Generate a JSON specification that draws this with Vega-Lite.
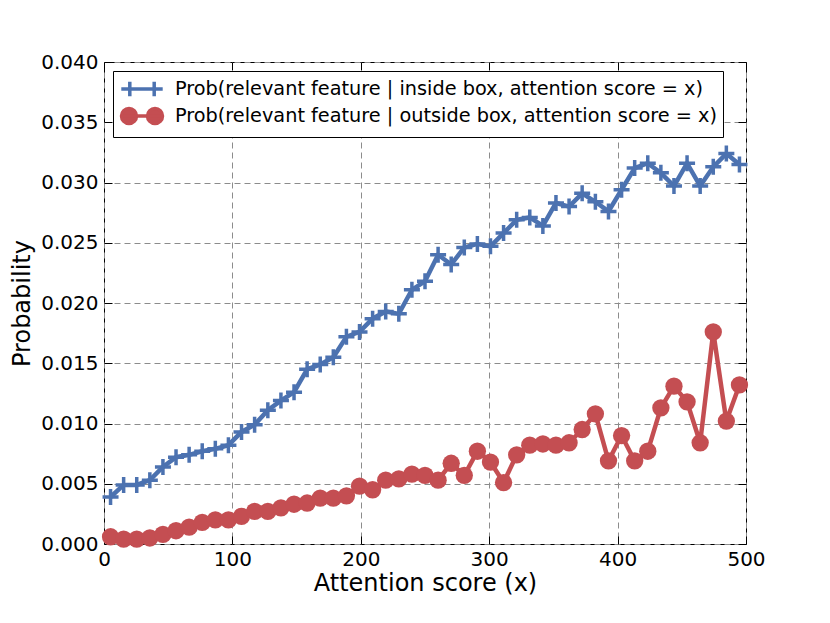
{
  "$schema": "https://vega.github.io/schema/vega-lite/v6.json",
  "description": "Probability of a relevant feature inside vs outside the box, by attention score.",
  "autosize": {"type": "none"},
  "padding": {"left": 104, "top": 62, "right": 84, "bottom": 79},
  "width": 642,
  "height": 482,
  "datasets": {
    "probs": [
      {"x": 5.1, "box": "inside", "p": 0.0039}, {"x": 15.3, "box": "inside", "p": 0.0049},
      {"x": 25.5, "box": "inside", "p": 0.0049}, {"x": 35.7, "box": "inside", "p": 0.0053},
      {"x": 45.9, "box": "inside", "p": 0.0064}, {"x": 56.1, "box": "inside", "p": 0.0072},
      {"x": 66.3, "box": "inside", "p": 0.0074}, {"x": 76.5, "box": "inside", "p": 0.0077},
      {"x": 86.7, "box": "inside", "p": 0.0079}, {"x": 96.9, "box": "inside", "p": 0.0082},
      {"x": 107.1, "box": "inside", "p": 0.0093}, {"x": 117.3, "box": "inside", "p": 0.0099},
      {"x": 127.6, "box": "inside", "p": 0.0111}, {"x": 137.8, "box": "inside", "p": 0.0119},
      {"x": 148.0, "box": "inside", "p": 0.0126}, {"x": 158.2, "box": "inside", "p": 0.0145},
      {"x": 168.4, "box": "inside", "p": 0.0149}, {"x": 178.6, "box": "inside", "p": 0.0155},
      {"x": 188.8, "box": "inside", "p": 0.0172}, {"x": 199.0, "box": "inside", "p": 0.0176},
      {"x": 209.2, "box": "inside", "p": 0.0187}, {"x": 219.4, "box": "inside", "p": 0.0193},
      {"x": 229.6, "box": "inside", "p": 0.0191}, {"x": 239.8, "box": "inside", "p": 0.0211},
      {"x": 250.0, "box": "inside", "p": 0.0218}, {"x": 260.2, "box": "inside", "p": 0.0240},
      {"x": 270.4, "box": "inside", "p": 0.0232}, {"x": 280.6, "box": "inside", "p": 0.0246},
      {"x": 290.8, "box": "inside", "p": 0.0249}, {"x": 301.0, "box": "inside", "p": 0.0247},
      {"x": 311.2, "box": "inside", "p": 0.0258}, {"x": 321.4, "box": "inside", "p": 0.0269},
      {"x": 331.6, "box": "inside", "p": 0.0271}, {"x": 341.8, "box": "inside", "p": 0.0264},
      {"x": 352.0, "box": "inside", "p": 0.0283}, {"x": 362.2, "box": "inside", "p": 0.0280},
      {"x": 372.4, "box": "inside", "p": 0.0291}, {"x": 382.7, "box": "inside", "p": 0.0284},
      {"x": 392.9, "box": "inside", "p": 0.0276}, {"x": 403.1, "box": "inside", "p": 0.0294},
      {"x": 413.3, "box": "inside", "p": 0.0312}, {"x": 423.5, "box": "inside", "p": 0.0316},
      {"x": 433.7, "box": "inside", "p": 0.0308}, {"x": 443.9, "box": "inside", "p": 0.0297},
      {"x": 454.1, "box": "inside", "p": 0.0316}, {"x": 464.3, "box": "inside", "p": 0.0297},
      {"x": 474.5, "box": "inside", "p": 0.0313}, {"x": 484.7, "box": "inside", "p": 0.0324},
      {"x": 494.9, "box": "inside", "p": 0.0315},
      {"x": 5.1, "box": "outside", "p": 0.0006}, {"x": 15.3, "box": "outside", "p": 0.0004},
      {"x": 25.5, "box": "outside", "p": 0.0004}, {"x": 35.7, "box": "outside", "p": 0.0005},
      {"x": 45.9, "box": "outside", "p": 0.0008}, {"x": 56.1, "box": "outside", "p": 0.0011},
      {"x": 66.3, "box": "outside", "p": 0.0014}, {"x": 76.5, "box": "outside", "p": 0.0018},
      {"x": 86.7, "box": "outside", "p": 0.0020}, {"x": 96.9, "box": "outside", "p": 0.0020},
      {"x": 107.1, "box": "outside", "p": 0.0023}, {"x": 117.3, "box": "outside", "p": 0.0027},
      {"x": 127.6, "box": "outside", "p": 0.0027}, {"x": 137.8, "box": "outside", "p": 0.0030},
      {"x": 148.0, "box": "outside", "p": 0.0033}, {"x": 158.2, "box": "outside", "p": 0.0034},
      {"x": 168.4, "box": "outside", "p": 0.0038}, {"x": 178.6, "box": "outside", "p": 0.0038},
      {"x": 188.8, "box": "outside", "p": 0.0040}, {"x": 199.0, "box": "outside", "p": 0.0048},
      {"x": 209.2, "box": "outside", "p": 0.0045}, {"x": 219.4, "box": "outside", "p": 0.0053},
      {"x": 229.6, "box": "outside", "p": 0.0054}, {"x": 239.8, "box": "outside", "p": 0.0058},
      {"x": 250.0, "box": "outside", "p": 0.0057}, {"x": 260.2, "box": "outside", "p": 0.0053},
      {"x": 270.4, "box": "outside", "p": 0.0067}, {"x": 280.6, "box": "outside", "p": 0.0057},
      {"x": 290.8, "box": "outside", "p": 0.0077}, {"x": 301.0, "box": "outside", "p": 0.0068},
      {"x": 311.2, "box": "outside", "p": 0.0051}, {"x": 321.4, "box": "outside", "p": 0.0074},
      {"x": 331.6, "box": "outside", "p": 0.0082}, {"x": 341.8, "box": "outside", "p": 0.0083},
      {"x": 352.0, "box": "outside", "p": 0.0082}, {"x": 362.2, "box": "outside", "p": 0.0084},
      {"x": 372.4, "box": "outside", "p": 0.0095}, {"x": 382.7, "box": "outside", "p": 0.0108},
      {"x": 392.9, "box": "outside", "p": 0.0069}, {"x": 403.1, "box": "outside", "p": 0.0090},
      {"x": 413.3, "box": "outside", "p": 0.0069}, {"x": 423.5, "box": "outside", "p": 0.0077},
      {"x": 433.7, "box": "outside", "p": 0.0113}, {"x": 443.9, "box": "outside", "p": 0.0131},
      {"x": 454.1, "box": "outside", "p": 0.0118}, {"x": 464.3, "box": "outside", "p": 0.0084},
      {"x": 474.5, "box": "outside", "p": 0.0176}, {"x": 484.7, "box": "outside", "p": 0.0102},
      {"x": 494.9, "box": "outside", "p": 0.0132}
    ]
  },
  "data": {"name": "probs"},
  "layer": [
    {
      "transform": [{"filter": "datum.box == 'inside'"}],
      "mark": {"type": "line", "strokeWidth": 4.5, "color": "#4C72B0"},
      "encoding": {
        "x": {
          "field": "x", "type": "quantitative",
          "scale": {"domain": [0, 500], "nice": false, "zero": false},
          "axis": {
            "title": "Attention score (x)",
            "values": [0, 100, 200, 300, 400, 500],
            "grid": true, "tickSize": -8, "labelPadding": 13,
            "titleY": 39, "titleBaseline": "middle"
          }
        },
        "y": {
          "field": "p", "type": "quantitative",
          "scale": {"domain": [0, 0.04], "nice": false},
          "axis": {
            "title": "Probability",
            "values": [0, 0.005, 0.01, 0.015, 0.02, 0.025, 0.03, 0.035, 0.04],
            "format": ".3f",
            "grid": true, "tickSize": -8, "labelPadding": 14,
            "titleX": -82, "titleBaseline": "middle"
          }
        }
      }
    },
    {
      "transform": [{"filter": "datum.box == 'outside'"}],
      "mark": {"type": "line", "strokeWidth": 4.5, "color": "#C44E52"},
      "encoding": {
        "x": {"field": "x", "type": "quantitative", "axis": null},
        "y": {"field": "p", "type": "quantitative", "axis": null}
      }
    },
    {
      "transform": [{"filter": "datum.box == 'inside'"}],
      "mark": {
        "type": "point", "shape": "M-1,0H1M0,-1V1", "size": 256,
        "filled": false, "strokeWidth": 3.5, "color": "#4C72B0", "opacity": 1
      },
      "encoding": {
        "x": {
          "field": "x", "type": "quantitative",
          "axis": {
            "orient": "top", "labels": false, "title": null, "grid": false,
            "tickSize": -8, "values": [0, 100, 200, 300, 400, 500]
          }
        },
        "y": {
          "field": "p", "type": "quantitative",
          "axis": {
            "orient": "right", "labels": false, "title": null, "grid": false,
            "tickSize": -8,
            "values": [0, 0.005, 0.01, 0.015, 0.02, 0.025, 0.03, 0.035, 0.04]
          }
        }
      }
    },
    {
      "transform": [{"filter": "datum.box == 'outside'"}],
      "mark": {"type": "circle", "size": 300, "color": "#C44E52", "opacity": 1},
      "encoding": {
        "x": {"field": "x", "type": "quantitative", "axis": null},
        "y": {"field": "p", "type": "quantitative", "axis": null}
      }
    },
    {
      "transform": [{"filter": "false"}],
      "mark": {"type": "point", "filled": true, "strokeWidth": 3.5, "opacity": 1},
      "encoding": {
        "x": {"field": "x", "type": "quantitative", "axis": null},
        "y": {"field": "p", "type": "quantitative", "axis": null},
        "color": {
          "field": "box", "type": "nominal",
          "scale": {"domain": ["inside", "outside"], "range": ["#4C72B0", "#C44E52"]},
          "legend": {
            "title": null,
            "labelExpr": "'Prob(relevant feature | ' + datum.label + ' box, attention score = x)'"
          }
        },
        "stroke": {
          "field": "box", "type": "nominal",
          "scale": {"domain": ["inside", "outside"], "range": ["#4C72B0", "#C44E52"]},
          "legend": {
            "title": null,
            "labelExpr": "'Prob(relevant feature | ' + datum.label + ' box, attention score = x)'"
          }
        },
        "shape": {
          "field": "box", "type": "nominal",
          "scale": {
            "domain": ["inside", "outside"],
            "range": [
              "M-0.97,0H3.17M-0.12,-0.72V0.72M2.32,-0.72V0.72",
              "M-0.97,0H3.17M-0.95,0A0.75,0.75 0 1,0 0.55,0A0.75,0.75 0 1,0 -0.95,0ZM1.65,0A0.75,0.75 0 1,0 3.15,0A0.75,0.75 0 1,0 1.65,0Z"
            ]
          },
          "legend": {
            "title": null,
            "labelExpr": "'Prob(relevant feature | ' + datum.label + ' box, attention score = x)'"
          }
        }
      }
    }
  ],
  "resolve": {"axis": {"x": "independent", "y": "independent"}},
  "config": {
    "font": "DejaVu Sans",
    "view": {"stroke": "black", "strokeWidth": 1},
    "axis": {
      "domain": false,
      "tickColor": "black", "tickWidth": 1,
      "labelFont": "DejaVu Sans", "labelFontSize": 20, "labelColor": "black",
      "labelFlush": false, "labelOverlap": false,
      "titleFont": "DejaVu Sans", "titleFontSize": 24, "titleFontWeight": "normal", "titleColor": "black",
      "gridColor": "#8c8c8c", "gridDash": [6, 4], "gridWidth": 1
    },
    "legend": {
      "orient": "top-left", "offset": 9, "padding": 6,
      "fillColor": "white", "strokeColor": "black", "cornerRadius": 0,
      "symbolSize": 400, "symbolStrokeWidth": 3.5,
      "labelFont": "DejaVu Sans", "labelFontSize": 19.3, "labelColor": "black",
      "labelLimit": 1000, "labelOffset": 32, "rowPadding": -4
    }
  }
}
